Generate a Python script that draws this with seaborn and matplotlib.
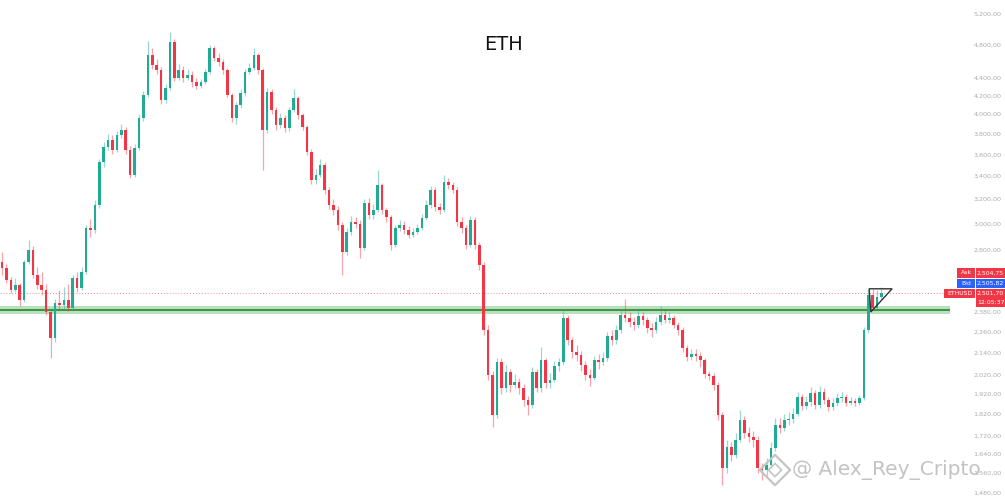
import numpy as np
import pandas as pd
import matplotlib
matplotlib.use("Agg")
import matplotlib.pyplot as plt
import seaborn as sns
from matplotlib.patches import Polygon, Rectangle
from matplotlib.ticker import NullLocator

# ---------------- data (ETHUSD candles) ----------------
first_open = 2714
close = [2672, 2589, 2522, 2555, 2456, 2714, 2801, 2623, 2555, 2522,
         2380, 2223, 2437, 2424, 2456, 2405, 2603, 2535, 2644, 2967,
         2952, 3152, 3528, 3670, 3738, 3641, 3787, 3837, 3641, 3410,
         3660, 3960, 4207, 4672, 4551, 4492, 4152, 4284, 4835, 4398,
         4492, 4398, 4433, 4352, 4307, 4352, 4468, 4759, 4636, 4587,
         4492, 4207, 3960, 4098, 4229, 4468, 4516, 4672, 4492, 3837,
         4240, 4044, 3888, 3960, 3857, 4044, 4174, 3991, 3868, 3622,
         3365, 3410, 3501, 3278, 3152, 3111, 2991, 2786, 2937, 3014,
         3000, 2816, 3168, 3070, 3111, 3321, 3111, 3054, 2838, 2967,
         2991, 2952, 2913, 2937, 2967, 3046, 3152, 3278, 3136, 3111,
         3347, 3321, 3278, 3014, 2967, 2838, 3030, 2838, 2693, 2270,
         2017, 1816, 2087, 1949, 2033, 1965, 1980, 1949, 1889, 1864,
         2033, 1949, 2098, 1975, 1991, 2066, 2087, 2343, 2211, 2143,
         2126, 2071, 2017, 2001, 2098, 2087, 2109, 2234, 2211, 2270,
         2362, 2343, 2319, 2301, 2356, 2331, 2282, 2270, 2319, 2362,
         2331, 2343, 2301, 2270, 2165, 2115, 2132, 2120, 2098, 2022,
         2012, 1965, 1816, 1580, 1670, 1635, 1701, 1793, 1732, 1714,
         1701, 1580, 1572, 1593, 1666, 1769, 1755, 1793, 1798, 1821,
         1904, 1860, 1879, 1924, 1864, 1929, 1889, 1855, 1874, 1899,
         1904, 1874, 1884, 1874, 1899, 2270, 2489, 2405, 2476, 2502]
high = [2786, 2700, 2610, 2600, 2570, 2730, 2875, 2830, 2680, 2640,
        2560, 2400, 2460, 2520, 2540, 2560, 2620, 2640, 2680, 2990,
        3040, 3190, 3560, 3720, 3800, 3790, 3830, 3900, 3870, 3680,
        3700, 4000, 4250, 4850, 4760, 4620, 4530, 4330, 4960, 4870,
        4560, 4540, 4500, 4480, 4400, 4390, 4500, 4800, 4790, 4700,
        4620, 4520, 4230, 4130, 4270, 4500, 4580, 4760, 4700, 4520,
        4280, 4270, 4080, 4010, 3990, 4080, 4270, 4200, 4010, 3890,
        3650, 3460, 3560, 3530, 3300, 3200, 3140, 3010, 2970, 3060,
        3050, 3030, 3200, 3210, 3160, 3455, 3340, 3130, 3070, 2990,
        3030, 3020, 2980, 2970, 3000, 3080, 3190, 3310, 3300, 3170,
        3410, 3380, 3350, 3300, 3050, 2990, 3060, 3050, 2860, 2710,
        2300, 2040, 2110, 2110, 2070, 2050, 2020, 2000, 1970, 1910,
        2060, 2050, 2170, 2110, 2030, 2090, 2110, 2390, 2360, 2230,
        2180, 2150, 2090, 2050, 2120, 2130, 2140, 2260, 2270, 2300,
        2400, 2460, 2380, 2350, 2390, 2380, 2350, 2310, 2350, 2420,
        2390, 2380, 2360, 2320, 2290, 2180, 2160, 2160, 2140, 2110,
        2040, 2030, 1980, 1830, 1700, 1690, 1730, 1840, 1810, 1760,
        1740, 1720, 1600, 1620, 1690, 1800, 1800, 1820, 1830, 1850,
        1930, 1920, 1910, 1955, 1940, 1960, 1950, 1905, 1900, 1925,
        1930, 1920, 1905, 1900, 1915, 2290, 2520, 2530, 2520, 2540]
low = [2623, 2570, 2500, 2505, 2420, 2440, 2700, 2600, 2530, 2490,
       2360, 2110, 2200, 2390, 2400, 2385, 2390, 2510, 2520, 2630,
       2900, 2930, 3130, 3480, 3640, 3600, 3620, 3760, 3600, 3380,
       3390, 3640, 3930, 4180, 4500, 4440, 4110, 4120, 4260, 4360,
       4370, 4350, 4370, 4300, 4270, 4280, 4330, 4440, 4600, 4540,
       4450, 4180, 3920, 3900, 4070, 4200, 4440, 4490, 4440, 3455,
       3810, 4000, 3840, 3860, 3820, 3830, 4020, 3950, 3840, 3590,
       3330, 3330, 3390, 3240, 3120, 3070, 2950, 2620, 2760, 2910,
       2970, 2740, 2800, 3040, 3040, 3090, 3080, 3010, 2800, 2820,
       2940, 2920, 2890, 2900, 2920, 2950, 3030, 3130, 3100, 3080,
       3090, 3290, 3250, 2980, 2930, 2810, 2820, 2810, 2660, 2240,
       1990, 1760, 1800, 1920, 1930, 1930, 1950, 1920, 1860, 1818,
       1850, 1930, 1930, 1950, 1950, 1980, 2040, 2070, 2180, 2110,
       2090, 2040, 1990, 1960, 1990, 2050, 2070, 2090, 2180, 2190,
       2250, 2320, 2290, 2270, 2280, 2300, 2250, 2230, 2250, 2300,
       2310, 2310, 2280, 2240, 2140, 2090, 2100, 2090, 2060, 2000,
       1990, 1940, 1790, 1510, 1560, 1610, 1620, 1690, 1710, 1690,
       1670, 1560, 1530, 1545, 1580, 1650, 1730, 1740, 1770, 1780,
       1810, 1840, 1845, 1860, 1845, 1850, 1870, 1835, 1840, 1860,
       1880, 1860, 1865, 1860, 1865, 1890, 2250, 2390, 2395, 2460]

support_level = 2393
support_band = [2368, 2418]
last_price = 2502
yticks = [5200, 4800, 4400, 4200, 4000, 3800, 3600, 3400, 3200, 3000, 2800,
          2380, 2260, 2140, 2020, 1920, 1820, 1720, 1640, 1560, 1480]
ytick_labels = ["5,200,00", "4,800,00", "4,400,00", "4,200,00", "4,000,00",
                "3,800,00", "3,600,00", "3,400,00", "3,200,00", "3,000,00",
                "2,800,00", "2,380,00", "2,260,00", "2,140,00", "2,020,00",
                "1,920,00", "1,820,00", "1,720,00", "1,640,00", "1,560,00",
                "1,480,00"]
triangle_x = [196.2, 201.4, 196.6]
triangle_y = [2529, 2529, 2380]
title = "ETH"
watermark = "@ Alex_Rey_Cripto"
ask_label, ask_value = "Ask", "2,504,75"
bid_label, bid_value = "Bid", "2,505,82"
sym_label, sym_value, sym_time = "ETHUSD", "2,501,70", "12:05:37"

# ---------------- styling ----------------
UP = "#22ab94"
DOWN = "#f23645"
sns.set_theme(style="white")
plt.rcParams['font.family'] = ['DejaVu Sans']

W, H = 1005, 497
fig = plt.figure(figsize=(W / 100, H / 100), dpi=100)
fig.patch.set_facecolor("white")
ax = fig.add_axes([0, 0, 950 / W, 1])
ax.set_facecolor("white")

opens = [first_open] + close[:-1]
df = pd.DataFrame({"open": opens, "close": close, "high": high, "low": low})
df["idx"] = np.arange(len(df))
df["up"] = df["close"] >= df["open"]
df["color"] = np.where(df["up"], UP, DOWN)
df["bot"] = df[["open", "close"]].min(axis=1)
df["top"] = df[["open", "close"]].max(axis=1)

ax.set_yscale("log")

# support band + line
ax.axhspan(support_band[0], support_band[1], color="#9fd8a5", alpha=0.75, lw=0, zorder=1)
ax.axhline(support_level, color="#3f8f48", lw=1.4, zorder=2)
# last price dotted line
ax.axhline(last_price, color="#f28b93", lw=0.7, ls=(0, (1, 2)), zorder=1)

# wicks
ax.vlines(df["idx"], df["low"], df["high"], colors=df["color"], lw=0.9, alpha=0.45, zorder=3)
# bodies
ax.bar(df["idx"], df["top"] - df["bot"] + 1e-6, bottom=df["bot"], width=0.58,
       color=df["color"], lw=0, zorder=4)

# triangle drawing
ax.add_patch(Polygon(np.column_stack([triangle_x, triangle_y]), closed=True, fill=False,
                     edgecolor="#333333", lw=1.0, zorder=5))

ax.set_xlim(-0.45, 214.5)
ax.set_ylim(1464, 5398)
ax.set_xticks([])
ax.yaxis.tick_right()
ax.yaxis.set_minor_locator(NullLocator())
ax.set_yticks(yticks)
ax.set_yticklabels(ytick_labels)
ax.tick_params(axis="y", length=0, pad=17, labelsize=4.6, labelcolor="#ababab")
for s in ax.spines.values():
    s.set_visible(False)

# title
fig.text(503 / W, 1 - 45 / H, title, ha="center", va="center", fontsize=14, color="#111111")

# price boxes on the right
def box(x0, y0, x1, y1, color):
    fig.add_artist(Rectangle((x0 / W, 1 - y1 / H), (x1 - x0) / W, (y1 - y0) / H,
                             transform=fig.transFigure, color=color, lw=0, zorder=10))

def label(x, y, s, ha="center", size=4.4):
    fig.text(x / W, 1 - y / H, s, ha=ha, va="center", fontsize=size, color="white", zorder=11)

box(957, 268, 975, 278, DOWN); label(966, 273, ask_label)
box(976, 268, 1005, 278, DOWN); label(977, 273, ask_value, ha="left")
box(957, 279, 975, 288, "#2962ff"); label(966, 283.5, bid_label)
box(976, 279, 1005, 288, "#2962ff"); label(977, 283.5, bid_value, ha="left")
box(944, 289, 975, 298, DOWN); label(959.5, 293.5, sym_label)
box(976, 289, 1005, 307, DOWN); label(977, 293.5, sym_value, ha="left"); label(977, 302, sym_time, ha="left")

# watermark
fig.text(792 / W, 1 - 470 / H, watermark, ha="left", va="center", fontsize=14.5,
         color="#bdbdbd", alpha=0.9, zorder=12)
ax_wm = fig.add_axes([0, 0, 1, 1], facecolor="none")
ax_wm.set_axis_off()
ax_wm.set_xlim(0, W); ax_wm.set_ylim(H, 0)
ax_wm.scatter([775], [470], marker="D", s=240, facecolors="none", edgecolors="#c4c4c4", linewidths=1.6)
ax_wm.scatter([775], [470], marker="D", s=45, facecolors="none", edgecolors="#c4c4c4", linewidths=1.2)

fig.savefig("out.png", dpi=100, facecolor="white")
